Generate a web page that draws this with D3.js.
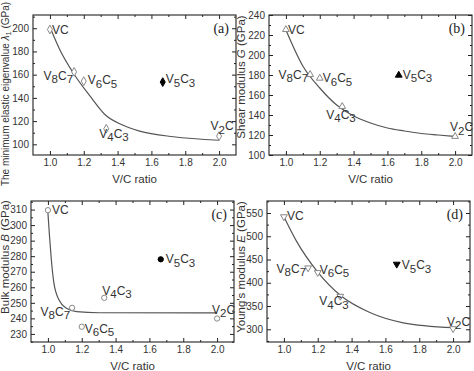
<!DOCTYPE html>
<meta charset="utf-8">
<body style="margin: 0; overflow: hidden; background: #fff">
<script src="https://d3js.org/d3.v7.min.js"></script>
<script>
    // phases along the V/C ratio axis
    var phases = ["VC", "V8C7", "V6C5", "V4C3", "V5C3", "V2C"];
    var ratio = [1.0, 1.143, 1.2, 1.333, 1.667, 2.0];

    // measured values, one array per quantity (GPa)
    var lambda1 = [198.9, 162.4, 154.4, 113.4, 153.6, 107.1];
    var shearG = [225.4, 180.5, 176.8, 148.5, 179.8, 118.6];
    var bulkB = [309.6, 246.8, 234.6, 253.2, 278.0, 239.9];
    var youngE = [542, 432, 422, 371, 440, 301.4];

    // fitted curves
    var fitAx = [1.0, 1.06, 1.14, 1.24, 1.33, 1.43, 1.53, 1.73, 2.0];
    var fitAy = [201, 181, 161, 141, 125, 116.6, 111.4, 106.5, 103.5];
    var fitBx = [1.0, 1.1, 1.2, 1.3, 1.4, 1.5, 1.6, 1.7, 1.8, 1.9, 2.0];
    var fitBy = [225, 189, 167, 150, 139, 132, 127, 124, 121.5, 120, 118.6];
    var fitCx = [1.0, 1.01, 1.02, 1.035, 1.065, 1.11, 1.17, 1.3, 2.0];
    var fitCy = [308, 292, 278, 263, 252, 246.5, 244.3, 243.6, 243.5];
    var fitDx = [1.0, 1.075, 1.2, 1.337, 1.508, 1.705, 2.0];
    var fitDy = [542, 489, 423, 372, 336, 314, 303.5];

    var xTicks = [1.0, 1.2, 1.4, 1.6, 1.8, 2.0];

    var W = 474, H = 371;
    var svg = d3.select("body").append("svg").attr("width", W).attr("height", H);

    var font = "Liberation Sans, Arial, sans-serif";
    var textCol = "#333";

    // label placement per point: [dx, dy, anchor]
    var panels = [
        {id: "(a)", box: [33, 15, 236, 155], y: lambda1, dom: [90.8, 211.4], step: 20, minor: 10,
         fx: fitAx, fy: fitAy, sym: d3.symbolDiamond, size: 22,
         title: [["The minimum elastic eigenvalue "], ["λ", "i"], ["1", "sub"], [" (GPa)"]], tx: 5, ty: 94, fs: 10,
         lab: [[2, 4, "start"], [-1, 8, "end"], [4, 3, "start"], [-7, 9, "start"], [3, 1, "start"], [-8.5, -6, "start"]]},
        {id: "(b)", box: [269, 15, 472, 155], y: shearG, dom: [100, 240], step: 20, minor: 10,
         fx: fitBx, fy: fitBy, sym: d3.symbolTriangle, size: 20,
         title: [["Shear modulus "], ["G", "i"], [" (GPa)"]], tx: 241, ty: 77, fs: 11.5,
         lab: [[2, 4, "start"], [-2, 4, "end"], [3, 4, "start"], [-16, 12, "start"], [4, 3.5, "start"], [-5, -5, "start"]]},
        {id: "(c)", box: [31, 201, 234, 342], y: bulkB, dom: [224.8, 315.5], step: 10, minor: 5,
         fx: fitCx, fy: fitCy, sym: d3.symbolCircle, size: 22,
         title: [["Bulk modulus "], ["B", "i"], [" (GPa)"]], tx: 5, ty: 257, fs: 11.5,
         lab: [[4, 4, "start"], [-2, 8, "end"], [3, 6, "start"], [-2, -3, "start"], [5, 4, "start"], [-5, -5, "start"]]},
        {id: "(d)", box: [267, 201, 470, 342], y: youngE, dom: [272.7, 575.8], step: 50, minor: 25,
         fx: fitDx, fy: fitDy, sym: d3.symbolTriangle, size: 20, flip: true,
         title: [["Young's modulus "], ["E", "i"], [" (GPa)"]], tx: 241, ty: 267, fs: 11.5,
         lab: [[3, 3, "start"], [-2, 5, "end"], [2, 1, "start"], [-21, 9, "start"], [5, 5, "start"], [-6, -3, "start"]]}
    ];

    // write a phase name with digits as subscripts
    var phaseText = function (sel, name) {
        var parts = name.match(/[A-Z]+|[0-9]+/g);
        var sub = false;
        parts.forEach(function (p) {
            var isNum = /[0-9]/.test(p);
            sel.append("tspan")
                .attr("dy", isNum && !sub ? 3.5 : (!isNum && sub ? -3.5 : 0))
                .attr("font-size", isNum ? 11.5 : 12)
                .text(p);
            sub = isNum;
        });
    };

    var drawPanel = function (p) {
        var x0 = p.box[0], y0 = p.box[1], x1 = p.box[2], y1 = p.box[3];
        var x = d3.scaleLinear().domain([0.9, 2.1]).range([x0, x1]);
        var y = d3.scaleLinear().domain(p.dom).range([y1, y0]);
        var g = svg.append("g");

        var yMajor = d3.range(Math.ceil(p.dom[0] / p.step) * p.step, p.dom[1] + 0.01, p.step);
        var yMinor = d3.range(Math.ceil(p.dom[0] / p.minor) * p.minor, p.dom[1], p.minor)
            .filter(function (v) { return yMajor.indexOf(v) < 0; });
        var xMinor = d3.range(1.1, 2.0, 0.2).map(function (v) { return +v.toFixed(1); });

        // inward ticks on all four sides
        var axes = [
            [d3.axisBottom(x).tickValues(xTicks).tickSize(-4).tickPadding(4).tickFormat(d3.format(".1f")), "translate(0," + y1 + ")"],
            [d3.axisBottom(x).tickValues(xMinor).tickSize(-2).tickFormat(""), "translate(0," + y1 + ")"],
            [d3.axisTop(x).tickValues(xTicks).tickSize(-4).tickFormat(""), "translate(0," + y0 + ")"],
            [d3.axisTop(x).tickValues(xMinor).tickSize(-2).tickFormat(""), "translate(0," + y0 + ")"],
            [d3.axisLeft(y).tickValues(yMajor).tickSize(-4).tickPadding(4).tickFormat(d3.format("d")), "translate(" + x0 + ",0)"],
            [d3.axisLeft(y).tickValues(yMinor).tickSize(-2).tickFormat(""), "translate(" + x0 + ",0)"],
            [d3.axisRight(y).tickValues(yMajor).tickSize(-4).tickFormat(""), "translate(" + x1 + ",0)"],
            [d3.axisRight(y).tickValues(yMinor).tickSize(-2).tickFormat(""), "translate(" + x1 + ",0)"]
        ];
        axes.forEach(function (a) {
            var ax = g.append("g").attr("transform", a[1]).call(a[0]);
            ax.select(".domain").remove();
            ax.selectAll("line").attr("stroke", "#222");
            ax.selectAll("text").attr("fill", textCol).attr("font-family", font).attr("font-size", 10);
        });

        g.append("rect")
            .attr("x", x0).attr("y", y0)
            .attr("width", x1 - x0).attr("height", y1 - y0)
            .attr("fill", "none").attr("stroke", "#222").attr("stroke-width", 1.1);

        // fitted curve
        var line = d3.line()
            .x(function (d) { return x(d[0]); })
            .y(function (d) { return y(d[1]); })
            .curve(d3.curveMonotoneX);
        g.append("path")
            .datum(d3.zip(p.fx, p.fy))
            .attr("d", line)
            .attr("fill", "none").attr("stroke", "#555").attr("stroke-width", 1.2);

        // points, V5C3 filled
        var sym = d3.symbol().type(p.sym).size(p.size);
        phases.forEach(function (name, i) {
            var filled = name === "V5C3";
            var px = x(ratio[i]), py = y(p.y[i]);
            g.append("path")
                .attr("d", sym())
                .attr("transform", "translate(" + px + "," + py + ")" + (p.flip ? " rotate(180)" : ""))
                .attr("fill", filled ? "#000" : "#fff")
                .attr("stroke", filled ? "#000" : "#888")
                .attr("stroke-width", 1);
            var t = g.append("text")
                .attr("x", px + p.lab[i][0]).attr("y", py + p.lab[i][1])
                .attr("text-anchor", p.lab[i][2])
                .attr("font-family", font).attr("fill", textCol);
            phaseText(t, name);
        });

        // panel letter
        g.append("text")
            .attr("x", x1 - 7).attr("y", y0 + 18)
            .attr("text-anchor", "end")
            .attr("font-family", "Liberation Serif, Times New Roman, serif")
            .attr("font-size", 14).attr("fill", "#222")
            .text(p.id);

        // x title
        g.append("text")
            .attr("x", (x0 + x1) / 2).attr("y", y1 + 28)
            .attr("text-anchor", "middle")
            .attr("font-family", font).attr("font-size", 11.5).attr("fill", textCol)
            .text("V/C ratio");

        // y title
        var yt = g.append("text")
            .attr("transform", "translate(" + p.tx + "," + p.ty + ") rotate(-90)")
            .attr("text-anchor", "middle")
            .attr("dominant-baseline", "central")
            .attr("font-family", font).attr("font-size", p.fs).attr("fill", textCol);
        p.title.forEach(function (s) {
            var ts = yt.append("tspan").text(s[0]);
            if (s[1] === "i") ts.attr("font-style", "italic");
            if (s[1] === "sub") ts.attr("font-size", 7.5).attr("dy", 3);
            else if (s[0] === " (GPa)" && p.id === "(a)") ts.attr("dy", -3);
        });
    };

    panels.forEach(drawPanel);
</script>
